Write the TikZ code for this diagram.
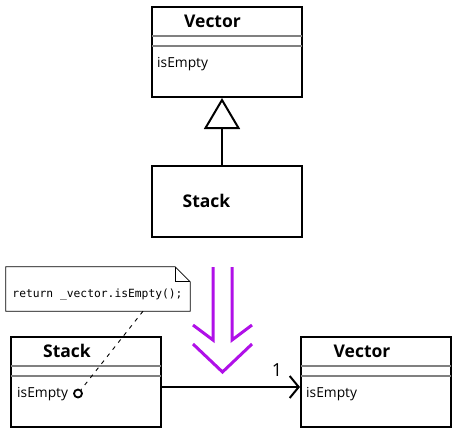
\documentclass[tikz,border=0pt]{standalone}
\usepackage{fontspec}
\setmainfont{Open Sans}
\newfontfamily\notefont{DejaVu Sans Mono}
\usetikzlibrary{arrows.meta}
\definecolor{umlpurple}{RGB}{176,16,232}
\definecolor{sepgray}{RGB}{128,128,128}
\begin{document}
\begin{tikzpicture}[x=1pt,y=-1pt,
  classbox/.style={draw, line width=2pt, minimum width=150pt, inner sep=0pt},
  sepline/.style={draw=sepgray, line width=2pt, shorten <=1pt, shorten >=1pt},
  classtitle/.style={font=\fontsize{17.5}{19}\selectfont\bfseries, anchor=base, inner sep=0pt},
  member/.style={font=\fontsize{13.8}{15}\selectfont, anchor=base west, inner sep=0pt},
  notebox/.style={inner sep=0pt, minimum width=184pt, minimum height=44pt},
  noteline/.style={line width=0.8pt},
  notetxt/.style={font=\notefont\fontsize{11.3}{13}\selectfont, anchor=base, inner sep=0pt},
  inherit/.style={line width=2pt, -{Triangle[open, length=31pt, width=36pt]}},
  assoc/.style={line width=2pt, -{Straight Barb[length=9pt, width=22pt]}},
  anchorlink/.style={line width=0.9pt, dash pattern=on 4pt off 5pt},
  refactor/.style={draw=umlpurple, line width=3pt},
  mult/.style={font=\fontsize{18}{20}\selectfont, anchor=base, inner sep=0pt}
]
\useasboundingbox (0,0) rectangle (462,434);

% ---- top: inheritance version ----
\node[classbox, minimum height=90pt] (v1) at (227,52) {};
\draw[sepline] ([yshift=-30pt]v1.north west) -- ([yshift=-30pt]v1.north east);
\draw[sepline] ([yshift=-40pt]v1.north west) -- ([yshift=-40pt]v1.north east);
\node[classtitle] (v1t) at (212.5,27) {Vector};
\node[member] (v1m) at (157,67) {isEmpty};

\node[classbox, minimum height=71pt] (s1) at (227,201.5) {};
\node[classtitle] (s1t) at (206.5,207) {Stack};

\coordinate (ih) at (222,0);
\draw[inherit] (s1.north -| ih) -- (v1.south -| ih);

% ---- refactoring arrow ----
\draw[refactor] (193,325) -- (213,340) -- (213,267);
\draw[refactor] (252,325) -- (232,340) -- (232,267);
\draw[refactor] (193,344) -- (222.5,372) -- (252,344);

% ---- bottom: delegation version ----
\node[classbox, minimum height=90pt] (s2) at (86,382) {};
\draw[sepline] ([yshift=-30pt]s2.north west) -- ([yshift=-30pt]s2.north east);
\draw[sepline] ([yshift=-40pt]s2.north west) -- ([yshift=-40pt]s2.north east);
\node[classtitle] (s2t) at (67,357) {Stack};
\node[member] (s2m) at (17,397) {isEmpty};
\node[circle, draw, line width=1.8pt, minimum size=8pt, inner sep=0pt] (port) at (78,393.5) {};

\node[classbox, minimum height=90pt] (v2) at (376,382) {};
\draw[sepline] ([yshift=-30pt]v2.north west) -- ([yshift=-30pt]v2.north east);
\draw[sepline] ([yshift=-40pt]v2.north west) -- ([yshift=-40pt]v2.north east);
\node[classtitle] (v2t) at (362,357) {Vector};
\node[member] (v2m) at (306,397) {isEmpty};

\coordinate (ay) at (0,387);
\draw[assoc] (s2.east |- ay) -- (v2.west |- ay);
\node[mult] (m1) at (277,376) {1};

% ---- note ----
\node[notebox] (note) at (98,289) {};
\draw[noteline] (note.north west) -- ([xshift=-15pt]note.north east)
  -- ([yshift=-15pt]note.north east) -- (note.south east) -- (note.south west) -- cycle;
\draw[noteline] ([xshift=-15pt]note.north east) -- ([xshift=-15pt,yshift=-15pt]note.north east)
  -- ([yshift=-15pt]note.north east);
\node[notetxt] (notet) at (97.5,297) {return \_vector.isEmpty();};
\coordinate (nx) at (143,0);
\draw[anchorlink] (nx |- note.south) -- (port);
\end{tikzpicture}
\end{document}
